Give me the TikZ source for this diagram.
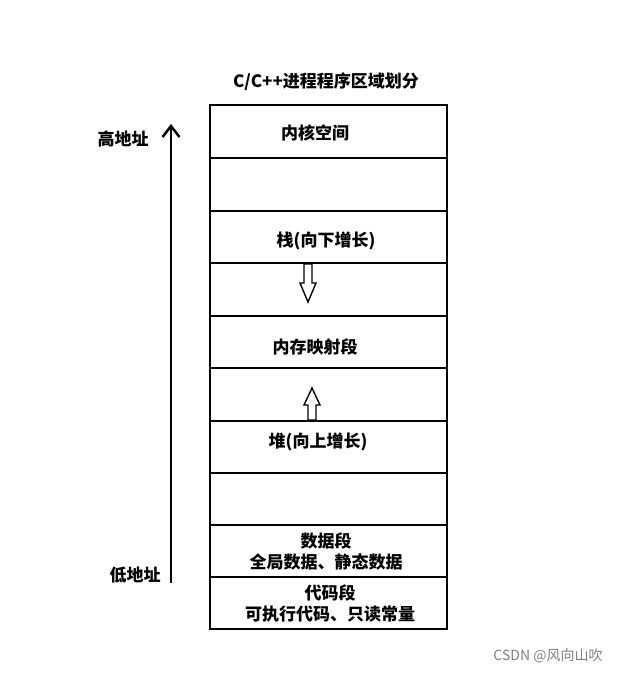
\documentclass[tikz,border=0pt]{standalone}
\usepackage{fontspec}
\usetikzlibrary{arrows.meta}
\newfontfamily\cjk{Noto Sans CJK SC}
\begin{document}
\begin{tikzpicture}[x=1pt,y=-1pt,
  lbl/.style={font=\cjk\bfseries\fontsize{17}{21}\selectfont,align=center},
  box/.style={draw,line width=1.3pt}]
\useasboundingbox (0,0) rectangle (633,674);
\node[lbl] (title) at (326,82) {C/C++进程程序区域划分};
\draw[box] (210,105) rectangle (447,629);
\foreach \y in {158,211,263,316,368,421,473,525,577}
  \draw[line width=1.3pt] (210,\y) -- (447,\y);
\node[lbl] (k) at (315,133) {内核空间};
\node[lbl] (s) at (326,241) {栈(向下增长)};
\node[lbl] (m) at (315,347) {内存映射段};
\node[lbl] (h) at (318,442) {堆(向上增长)};
\node[lbl] (d) at (326,551) {数据段\\全局数据、静态数据};
\node[lbl] (c) at (330,603) {代码段\\可执行代码、只读常量};
\node[lbl] (hi) at (123,139) {高地址};
\node[lbl] (lo) at (135,575) {低地址};
\coordinate (a1) at (171,583);
\coordinate (a2) at (171,124);
\draw[line width=2.5pt,-{Straight Barb[length=11pt,width=17pt]}] (a1) -- (a2);
\draw[line width=1.4pt] (304,264) -- (312,264) -- (312,283) -- (316,283) -- (308,302) -- (300,283) -- (304,283) -- cycle;
\draw[line width=1.4pt] (308,420) -- (316,420) -- (316,405) -- (320,405) -- (312,388) -- (304,405) -- (308,405) -- cycle;
\node[font=\fontsize{14}{16}\selectfont\cjk,text=gray] (wm) at (548,656) {CSDN @风向山吹};
\end{tikzpicture}
\end{document}
